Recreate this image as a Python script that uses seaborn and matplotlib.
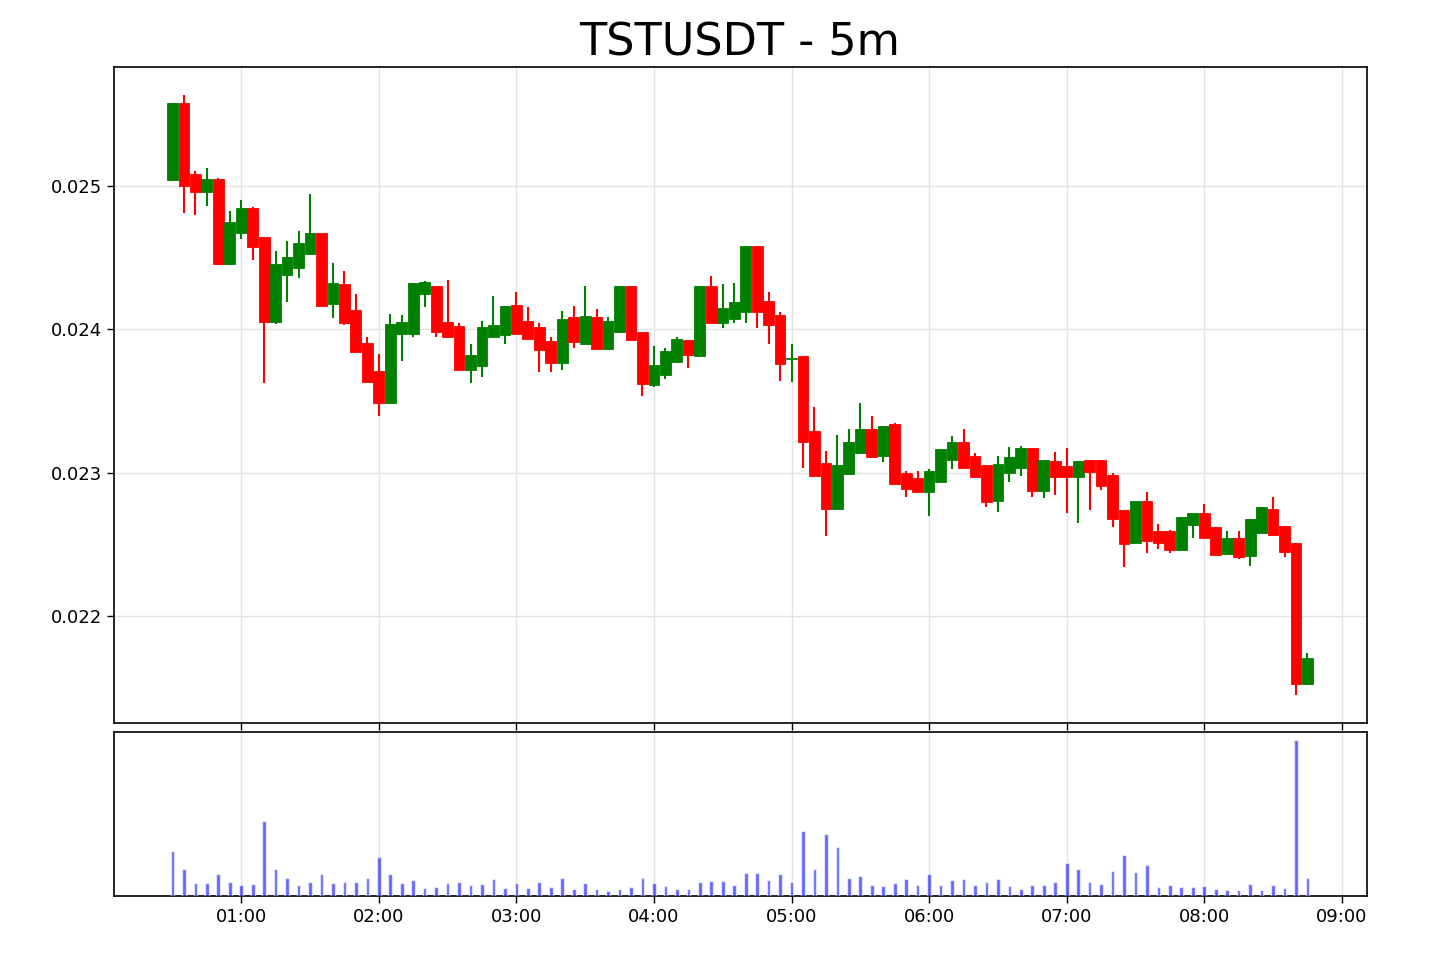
import matplotlib
matplotlib.use("Agg")
import matplotlib.pyplot as plt
import numpy as np
import pandas as pd
import seaborn as sns

# 5m candles TSTUSDT, first bar at 00:30
start_time = "00:30"
interval_min = 5

open_ = [0.025042, 0.025581, 0.025082, 0.024960, 0.025049, 0.024458, 0.024670, 0.024849, 0.024644, 0.024053,
         0.024379, 0.024426, 0.024525, 0.024674, 0.024174, 0.024316, 0.024135, 0.023902, 0.023709, 0.023488,
         0.023965, 0.023967, 0.024246, 0.024304, 0.024053, 0.024023, 0.023716, 0.023744, 0.023944, 0.023960,
         0.024170, 0.024060, 0.024018, 0.023918, 0.023767, 0.024084, 0.023897, 0.024084, 0.023862, 0.023979,
         0.024304, 0.023983, 0.023611, 0.023681, 0.023770, 0.023925, 0.023816, 0.024302, 0.024046, 0.024070,
         0.024119, 0.024583, 0.024198, 0.024100, 0.023795, 0.023816, 0.023290, 0.023065, 0.022744, 0.022988,
         0.023135, 0.023304, 0.023116, 0.023337, 0.022999, 0.022960, 0.022862, 0.022932, 0.023088, 0.023212,
         0.023118, 0.023053, 0.022802, 0.022999, 0.023030, 0.023170, 0.022872, 0.023083, 0.023046, 0.022972,
         0.023088, 0.023088, 0.022983, 0.022739, 0.022507, 0.022802, 0.022593, 0.022593, 0.022460, 0.022634,
         0.022716, 0.022623, 0.022430, 0.022542, 0.022418, 0.022581, 0.022746, 0.022630, 0.022511, 0.021525]
high = [0.025581, 0.025635, 0.025105, 0.025128, 0.025055, 0.024826, 0.024902, 0.024855, 0.024644, 0.024548,
        0.024616, 0.024686, 0.024942, 0.024674, 0.024460, 0.024407, 0.024246, 0.023944, 0.023827, 0.024105,
        0.024100, 0.024325, 0.024339, 0.024304, 0.024344, 0.024042, 0.023897, 0.024058, 0.024234, 0.024165,
        0.024258, 0.024158, 0.024046, 0.023948, 0.024128, 0.024162, 0.024304, 0.024142, 0.024088, 0.024304,
        0.024304, 0.023983, 0.023886, 0.023872, 0.023944, 0.023925, 0.024304, 0.024374, 0.024316, 0.024321,
        0.024583, 0.024583, 0.024258, 0.024123, 0.023895, 0.023816, 0.023460, 0.023152, 0.023262, 0.023304,
        0.023488, 0.023397, 0.023325, 0.023348, 0.023013, 0.023013, 0.023025, 0.023162, 0.023256, 0.023302,
        0.023139, 0.023053, 0.023116, 0.023181, 0.023188, 0.023170, 0.023088, 0.023142, 0.023170, 0.023081,
        0.023088, 0.023088, 0.022995, 0.022739, 0.022802, 0.022867, 0.022641, 0.022600, 0.022692, 0.022716,
        0.022779, 0.022623, 0.022593, 0.022593, 0.022674, 0.022760, 0.022828, 0.022630, 0.022511, 0.021743]
low = [0.025042, 0.024814, 0.024798, 0.024863, 0.024450, 0.024455, 0.024632, 0.024484, 0.023623, 0.024035,
       0.024193, 0.024360, 0.024525, 0.024162, 0.024077, 0.024030, 0.023839, 0.023634, 0.023397, 0.023488,
       0.023781, 0.023948, 0.024153, 0.023944, 0.023944, 0.023716, 0.023623, 0.023665, 0.023944, 0.023897,
       0.023967, 0.023932, 0.023704, 0.023700, 0.023716, 0.023871, 0.023897, 0.023862, 0.023862, 0.023979,
       0.023925, 0.023537, 0.023595, 0.023653, 0.023770, 0.023728, 0.023816, 0.024042, 0.024011, 0.024042,
       0.024042, 0.024007, 0.023897, 0.023641, 0.023630, 0.023030, 0.022978, 0.022557, 0.022744, 0.022988,
       0.023135, 0.023111, 0.023076, 0.022918, 0.022828, 0.022862, 0.022699, 0.022932, 0.023023, 0.023034,
       0.022967, 0.022762, 0.022723, 0.022932, 0.022978, 0.022828, 0.022821, 0.022844, 0.022720, 0.022650,
       0.022739, 0.022879, 0.022623, 0.022343, 0.022507, 0.022441, 0.022467, 0.022441, 0.022453, 0.022542,
       0.022542, 0.022425, 0.022430, 0.022395, 0.022348, 0.022581, 0.022565, 0.022413, 0.021448, 0.021525]
close = [0.025581, 0.025000, 0.024960, 0.025049, 0.024454, 0.024747, 0.024844, 0.024576, 0.024053, 0.024456,
         0.024502, 0.024604, 0.024674, 0.024162, 0.024325, 0.024042, 0.023839, 0.023634, 0.023488, 0.024037,
         0.024051, 0.024321, 0.024332, 0.023979, 0.023948, 0.023716, 0.023820, 0.024014, 0.024030, 0.024165,
         0.023967, 0.023932, 0.023855, 0.023767, 0.024072, 0.023913, 0.024093, 0.023862, 0.024060, 0.024304,
         0.023925, 0.023618, 0.023751, 0.023849, 0.023932, 0.023820, 0.024304, 0.024042, 0.024147, 0.024193,
         0.024583, 0.024123, 0.024030, 0.023758, 0.023800, 0.023211, 0.022978, 0.022744, 0.023053, 0.023216,
         0.023304, 0.023111, 0.023325, 0.022918, 0.022886, 0.022862, 0.023010, 0.023162, 0.023216, 0.023034,
         0.022967, 0.022797, 0.023058, 0.023107, 0.023170, 0.022872, 0.023088, 0.022972, 0.022972, 0.023081,
         0.023002, 0.022907, 0.022674, 0.022502, 0.022802, 0.022525, 0.022511, 0.022460, 0.022692, 0.022716,
         0.022542, 0.022425, 0.022542, 0.022413, 0.022674, 0.022760, 0.022565, 0.022448, 0.021525, 0.021704]
volume = [45, 26.7, 13.3, 12.7, 22, 14.3, 11, 12, 75, 26.7,
          17.7, 11, 14.3, 21.7, 13.3, 14.3, 14.3, 17.7, 38.7, 22,
          12.7, 16, 7.7, 9.3, 13, 14, 11, 12, 17, 7.7,
          13.3, 7.7, 14, 8.7, 17.7, 6.7, 13.3, 7, 5, 7,
          9.3, 18.3, 13.3, 10, 6.7, 6.7, 14.3, 14.7, 14.7, 11,
          22.7, 23.3, 16, 22, 14.3, 65.3, 27, 62, 48.7, 17.7,
          20, 11, 10, 13.3, 17, 11, 22, 11, 16, 17,
          10.7, 14, 17.3, 9.7, 6.7, 10.7, 10.7, 14, 33.3, 27,
          14.3, 12.3, 25.3, 41, 24, 31, 9.3, 11, 9.3, 9,
          10, 7.3, 6.3, 6.3, 12, 6, 11, 8, 156, 18.3]

hour_ticks = ["01:00", "02:00", "03:00", "04:00", "05:00", "06:00", "07:00", "08:00", "09:00"]
price_ticks = [0.022, 0.023, 0.024, 0.025]

# build a frame, x axis = minutes since midnight
t0 = pd.Timestamp("2024-01-01 " + start_time)
times = pd.date_range(t0, periods=len(open_), freq=f"{interval_min}min")
df = pd.DataFrame({"time": times, "open": open_, "high": high, "low": low,
                   "close": close, "volume": volume})
df["minute"] = df["time"].dt.hour * 60 + df["time"].dt.minute
df["up"] = df["close"] >= df["open"]
df["color"] = np.where(df["up"], "green", "red")

sns.set_theme(style="white")
plt.rcParams["font.family"] = ["DejaVu Sans"]
plt.rcParams["text.color"] = "black"
plt.rcParams["xtick.color"] = "black"
plt.rcParams["ytick.color"] = "black"

fig = plt.figure(figsize=(14.5, 9.55), dpi=100)
ax = fig.add_axes([0.0786, 0.2429, 0.8642, 0.6869])
axv = fig.add_axes([0.0786, 0.0618, 0.8642, 0.1717], sharex=ax)

# candles: wicks + bodies
ax.vlines(df["minute"], df["low"], df["high"], colors=df["color"], linewidth=1.5, zorder=2)
body_low = np.minimum(df["open"], df["close"])
body_h = (df["close"] - df["open"]).abs()
ax.bar(df["minute"], body_h, bottom=body_low, width=interval_min * 0.94,
       color=df["color"], edgecolor=df["color"], linewidth=0.6, zorder=3)

# volume bars
sns.barplot(data=df, x="minute", y="volume", native_scale=True, width=0.32,
            color="blue", alpha=0.6, saturation=1, errorbar=None, ax=axv, zorder=3)

hour_pos = [60 * (i + 1) for i in range(len(hour_ticks))]
ax.set_xlim(df["minute"].iloc[0] - 25.5, df["minute"].iloc[-1] + 26)
ax.set_ylim(0.021253, 0.02583)
ax.set_yticks(price_ticks)
ax.set_yticklabels([f"{p:.3f}" for p in price_ticks])
axv.set_xticks(hour_pos)
axv.set_xticklabels(hour_ticks)
axv.set_ylim(0, max(volume) * 1.05)
axv.set_yticks([])
ax.tick_params(axis="x", labelbottom=False)

for a in (ax, axv):
    a.grid(True, color="#e3e3e3", linewidth=1.0, zorder=0)
    a.set_axisbelow(True)
    a.set_xlabel("")
    a.set_ylabel("")
    a.tick_params(labelsize=13, length=5, width=1, colors="black", direction="out",
                  bottom=True, left=True)
    for s in a.spines.values():
        s.set_color("black")
        s.set_linewidth(1.2)
axv.tick_params(axis="y", left=False)

fig.suptitle("TSTUSDT - 5m", fontsize=32, color="black", x=0.51, y=0.978)
fig.savefig("out.png", dpi=100)
